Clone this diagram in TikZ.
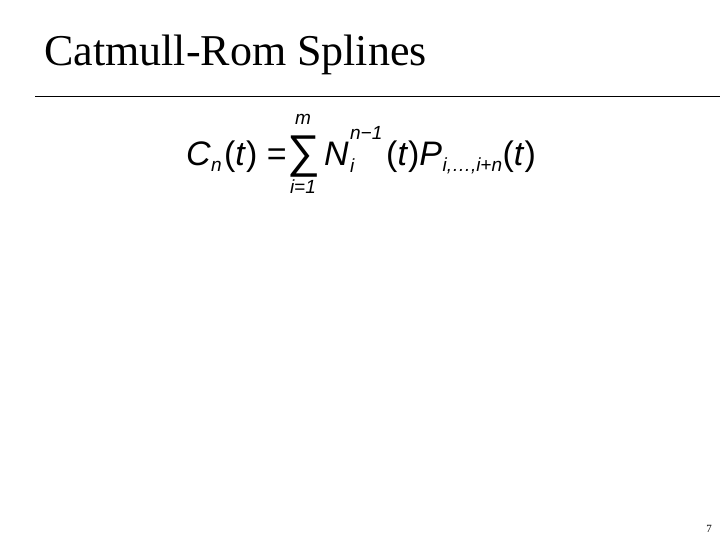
\documentclass[tikz,border=0pt]{standalone}
\usepackage{fontspec}
\setmainfont{Liberation Serif}
\newfontfamily\formfont{Liberation Sans}
\begin{document}
\begin{tikzpicture}[x=1pt,y=-1pt,
 big/.style={anchor=base west,inner sep=0,font=\formfont\fontsize{34}{36}\selectfont},
 small/.style={anchor=base west,inner sep=0,font=\formfont\fontsize{19}{20}\selectfont}]
\useasboundingbox (0,0) rectangle (720,540);
\node[anchor=base west,inner sep=0,font=\fontsize{44}{48}\selectfont] (title) at (44,66) {Catmull-Rom Splines};
\coordinate (l1) at (35,96); \coordinate (l2) at (720,96);
\draw[line width=0.8pt] (l1) -- (l2);
\node[big] (c) at (186,166) {\itshape C};
\node[small] (cn) at ([yshift=-6]c.base east) {\itshape n};
\node[big] (ct) at ([xshift=2]cn.base east |- c.base) {(\textit{t}) =};
\node[anchor=base,inner sep=0,font=\formfont\fontsize{46}{48}\selectfont] (sum) at (304,168) {∑};
\node[small,anchor=base] (sm) at (303,125) {\itshape m};
\node[small,anchor=base] (si) at (303,194) {\itshape i{\upshape =}1};
\node[big] (n) at (324,166) {\itshape N};
\node[small] (nsup) at (350,140) {\itshape n{\upshape −}1};
\node[small] (nsub) at (350,173) {\itshape i};
\node[big] (tp) at (386,166) {(\textit{t})\textit{P}};
\node[small] (psub) at ([yshift=-6]tp.base east) {\itshape i,…,i{\upshape +}n};
\node[big] (t2) at (psub.base east |- tp.base) {(\textit{t})};
\node[anchor=base east,inner sep=0,font=\fontsize{11}{12}\selectfont] (p) at (712,532) {7};
\end{tikzpicture}
\end{document}
